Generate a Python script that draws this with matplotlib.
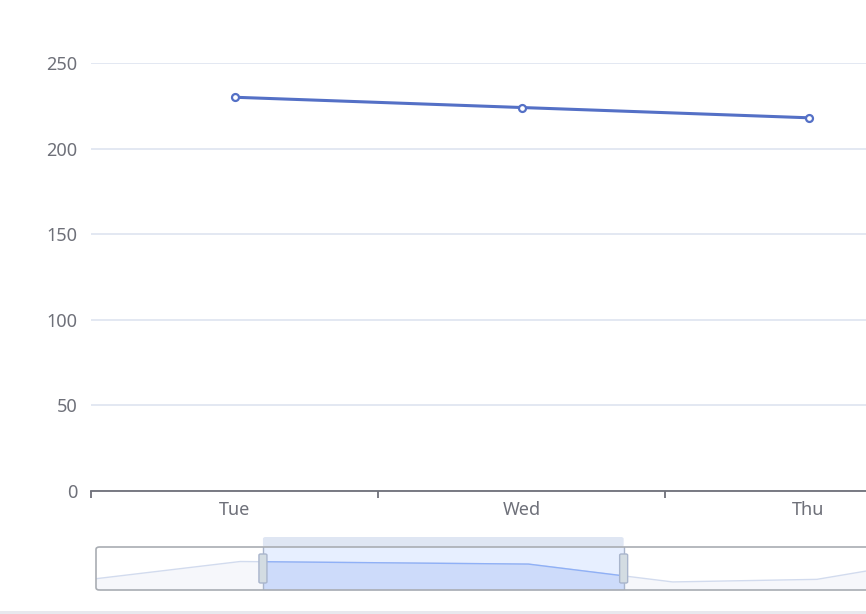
import numpy as np
import matplotlib
matplotlib.use("Agg")
import matplotlib.pyplot as plt
from matplotlib.patches import FancyBboxPatch, Rectangle

plt.rcParams["font.family"] = ["Noto Sans", "DejaVu Sans"]

# data
days = ["Mon", "Tue", "Wed", "Thu", "Fri", "Sat", "Sun"]
values = [150, 230, 224, 218, 135, 147, 260]
y_ticks = [0, 50, 100, 150, 200, 250]
zoom_start = 19.3  # percent of slider
zoom_end = 61.0

LINE = "#5470C6"
AXIS = "#6E7079"
GRID = "#E0E6F1"

W, H = 866, 614
fig = plt.figure(figsize=(W / 100, H / 100), dpi=100)


def px(x0, y0, x1, y1):
    """pixel box (top-left origin) -> figure fraction rect"""
    return [x0 / W, 1 - y1 / H, (x1 - x0) / W, (y1 - y0) / H]


# main chart, zoomed window (filter mode keeps Tue..Thu)
n = len(days)
i0 = int(np.floor(zoom_start / 100 * (n - 1)))
i1 = int(np.floor(zoom_end / 100 * (n - 1)))
shown_days = days[i0:i1 + 1]
shown_vals = values[i0:i1 + 1]

ax = fig.add_axes(px(91, 63, 952, 491))
ax.set_xlim(0, len(shown_days))
ax.set_ylim(0, 250)
for s in ["top", "right", "left"]:
    ax.spines[s].set_visible(False)
ax.spines["bottom"].set_color(AXIS)
ax.spines["bottom"].set_linewidth(1.3)
ax.set_yticks(y_ticks)
ax.tick_params(axis="y", length=0, pad=10, labelsize=13, labelcolor=AXIS)
ax.set_axisbelow(True)
ax.grid(axis="y", color=GRID, linewidth=1.3)
ax.set_xticks(np.arange(len(shown_days) + 1))
ax.set_xticklabels([])
ax.tick_params(axis="x", which="major", length=5, color=AXIS, width=1.3)
xc = np.arange(len(shown_days)) + 0.5
ax.set_xticks(xc, minor=True)
ax.set_xticklabels(shown_days, minor=True)
ax.tick_params(axis="x", which="minor", length=0, pad=7, labelsize=13, labelcolor=AXIS)
ax.plot(xc, shown_vals, color=LINE, linewidth=2.2, marker="o", markersize=5,
        markerfacecolor="white", markeredgecolor=LINE, markeredgewidth=1.6,
        clip_on=False, zorder=3)

# slider
sx0, sx1, sy0, sy1 = 96, 961, 547, 590
fig.patches.append(FancyBboxPatch(
    (sx0 / W, 1 - sy1 / H), (sx1 - sx0) / W, (sy1 - sy0) / H,
    boxstyle="round,pad=0,rounding_size=0.004", transform=fig.transFigure,
    facecolor="none", edgecolor="#a9adb3", linewidth=1.2, zorder=5))

sax = fig.add_axes(px(sx0, sy0, sx1, sy1))
sax.set_axis_off()
sax.set_xlim(0, n - 1)
lo, hi = min(values), max(values)
off = (hi - lo) * 0.3
sax.set_ylim(lo - off, hi + off)
xs = np.arange(n)
sax.fill_between(xs, values, lo - off, color="#d2dbee", alpha=0.2, linewidth=0)
sax.plot(xs, values, color="#d2dbee", linewidth=1)

a = zoom_start / 100 * (n - 1)
b = zoom_end / 100 * (n - 1)
sax.axvspan(a, b, color=(135 / 255, 175 / 255, 1.0), alpha=0.2, linewidth=0)
sel_x = np.concatenate([[a], xs[(xs > a) & (xs < b)], [b]])
sel_y = np.interp(sel_x, xs, values)
sax.fill_between(sel_x, sel_y, lo - off, color="#8fb0f7", alpha=0.22, linewidth=0)
sax.plot(sel_x, sel_y, color="#8fb0f7", linewidth=1)
for e in (a, b):
    sax.axvline(e, color="#a9b5cc", linewidth=1)

# window pixel edges
wx0 = sx0 + (sx1 - sx0) * zoom_start / 100
wx1 = sx0 + (sx1 - sx0) * zoom_end / 100

# move handle bar on top
fig.patches.append(FancyBboxPatch(
    (wx0 / W, 1 - sy0 / H), (wx1 - wx0) / W, 10 / H,
    boxstyle="round,pad=0,rounding_size=0.003", transform=fig.transFigure,
    facecolor="#dfe6f3", edgecolor="none", zorder=4))
for dx in (-3, 0, 3):
    cx = (wx0 + wx1) / 2 + dx
    fig.add_artist(plt.Line2D([cx / W, cx / W], [1 - 540 / H, 1 - 544 / H],
                              color="white", linewidth=1, transform=fig.transFigure))

# side handles
for wx in (wx0, wx1):
    fig.patches.append(FancyBboxPatch(
        ((wx - 4) / W, 1 - 583 / H), 8 / W, 29 / H,
        boxstyle="round,pad=0,rounding_size=0.002", transform=fig.transFigure,
        facecolor="#d3dce2", edgecolor="#a9b5cc", linewidth=1, zorder=6))

# bottom strip
fig.patches.append(Rectangle((0, 0), 1, 3 / H, transform=fig.transFigure,
                             facecolor="#e8e8ee", edgecolor="none"))

fig.savefig("out.png", dpi=100)
